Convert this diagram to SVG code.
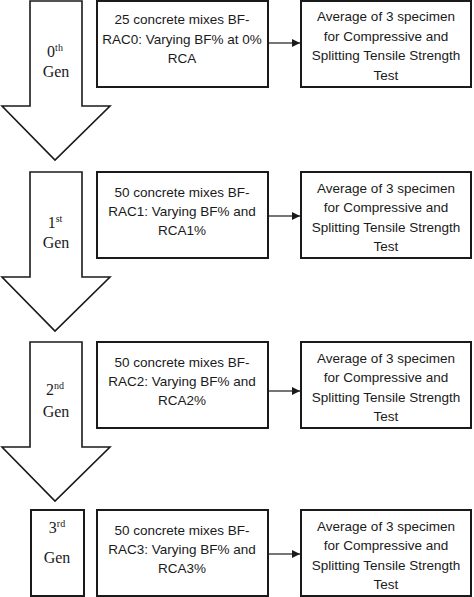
<svg xmlns="http://www.w3.org/2000/svg" width="474" height="597" viewBox="0 0 474 597">
<style>
.bx{fill:#fff;stroke:#1a1a1a;stroke-width:2}
.ar{fill:#fff;stroke:#1a1a1a;stroke-width:1.6;stroke-linejoin:miter}
.t{font-family:"Liberation Sans",Arial,sans-serif;font-size:13.5px;fill:#1a1a1a;text-anchor:middle}
.g{font-family:"Liberation Serif","Times New Roman",serif;font-size:16px;fill:#1a1a1a;text-anchor:middle}
.s{font-size:10px}
.c{stroke:#1a1a1a;stroke-width:1.2;fill:none}
</style>
<defs>
<marker id="ah" viewBox="0 0 10 10" refX="10" refY="5" markerWidth="8" markerHeight="8" markerUnits="userSpaceOnUse" orient="auto">
<path d="M0,0 L10,5 L0,10 z" fill="#1a1a1a"/>
</marker>
</defs>
<rect width="474" height="597" fill="#fff"/>

<g id="gen0">
<polygon class="ar" points="30,1 82,1 82,106 110,106 55,160 2,106 30,106"/>
<text class="g" x="55" y="57">0<tspan class="s" dy="-6">th</tspan></text>
<text class="g" x="56" y="77">Gen</text>
</g>
<g id="mix0">
<rect class="bx" x="97" y="1" width="171" height="86"/>
<text class="t" x="182" y="24">25 concrete mixes BF-</text>
<text class="t" x="182" y="44">RAC0: Varying BF% at 0%</text>
<text class="t" x="182" y="63">RCA</text>
</g>
<g id="test0">
<rect class="bx" x="301" y="1" width="170" height="86"/>
<text class="t" x="386" y="21">Average of 3 specimen</text>
<text class="t" x="386" y="40.5">for Compressive and</text>
<text class="t" x="386" y="60">Splitting Tensile Strength</text>
<text class="t" x="386" y="79.5">Test</text>
</g>

<g id="gen1">
<polygon class="ar" points="30,172 82,172 82,277 110,277 55,331 2,277 30,277"/>
<text class="g" x="55" y="228">1<tspan class="s" dy="-6">st</tspan></text>
<text class="g" x="56" y="248">Gen</text>
</g>
<g id="mix1">
<rect class="bx" x="97" y="172" width="171" height="86"/>
<text class="t" x="182" y="196.5">50 concrete mixes BF-</text>
<text class="t" x="182" y="215.5">RAC1: Varying BF% and</text>
<text class="t" x="182" y="234.5">RCA1%</text>
</g>
<g id="test1">
<rect class="bx" x="301" y="172" width="170" height="86"/>
<text class="t" x="386" y="192.5">Average of 3 specimen</text>
<text class="t" x="386" y="212">for Compressive and</text>
<text class="t" x="386" y="231.5">Splitting Tensile Strength</text>
<text class="t" x="386" y="251">Test</text>
</g>

<g id="gen2">
<polygon class="ar" points="30,342 82,342 82,447 110,447 55,501 2,447 30,447"/>
<text class="g" x="55" y="395">2<tspan class="s" dy="-6">nd</tspan></text>
<text class="g" x="56" y="417">Gen</text>
</g>
<g id="mix2">
<rect class="bx" x="97" y="342" width="171" height="86"/>
<text class="t" x="182" y="366.5">50 concrete mixes BF-</text>
<text class="t" x="182" y="385.5">RAC2: Varying BF% and</text>
<text class="t" x="182" y="404.5">RCA2%</text>
</g>
<g id="test2">
<rect class="bx" x="301" y="342" width="170" height="86"/>
<text class="t" x="386" y="362.5">Average of 3 specimen</text>
<text class="t" x="386" y="382">for Compressive and</text>
<text class="t" x="386" y="401.5">Splitting Tensile Strength</text>
<text class="t" x="386" y="421">Test</text>
</g>

<g id="gen3">
<rect class="bx" x="31" y="510" width="53" height="86"/>
<text class="g" x="57" y="533">3<tspan class="s" dy="-6">rd</tspan></text>
<text class="g" x="57" y="563">Gen</text>
</g>
<g id="mix3">
<rect class="bx" x="97" y="510" width="171" height="86"/>
<text class="t" x="182" y="534.5">50 concrete mixes BF-</text>
<text class="t" x="182" y="553.5">RAC3: Varying BF% and</text>
<text class="t" x="182" y="572.5">RCA3%</text>
</g>
<g id="test3">
<rect class="bx" x="301" y="510" width="170" height="86"/>
<text class="t" x="386" y="530.5">Average of 3 specimen</text>
<text class="t" x="386" y="550">for Compressive and</text>
<text class="t" x="386" y="569.5">Splitting Tensile Strength</text>
<text class="t" x="386" y="589">Test</text>
</g>

<g id="connectors">
<line class="c" x1="268" y1="43" x2="300" y2="43" marker-end="url(#ah)"/>
<line class="c" x1="268" y1="216" x2="300" y2="216" marker-end="url(#ah)"/>
<line class="c" x1="268" y1="391" x2="300" y2="391" marker-end="url(#ah)"/>
<line class="c" x1="268" y1="554" x2="300" y2="554" marker-end="url(#ah)"/>
</g>
</svg>
